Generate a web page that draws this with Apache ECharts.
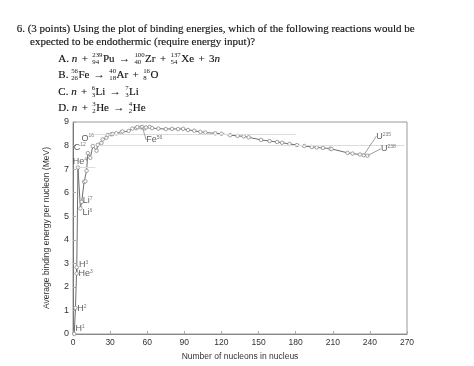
<!DOCTYPE html>
<html>
<head>
<meta charset="utf-8">
<script src="https://cdn.jsdelivr.net/npm/echarts@6/dist/echarts.min.js"></script>
<style>
html, body { margin: 0; padding: 0; background: #fff; }
#main { width: 474px; height: 366px; }
</style>
</head>
<body>
<div id="main"></div>
<script>
// mass number A and average binding energy per nucleon (MeV), in plotting order
var nucleons = [1, 2, 3, 3, 4, 6, 7, 9, 10, 11, 12, 14, 16, 19, 20, 23, 24, 27, 28, 31, 32, 35, 39, 40,
	45, 48, 51, 52, 55, 56, 58, 59, 62, 64, 69, 75, 80, 85, 89, 93, 98, 103, 107, 115, 120, 127, 133,
	138, 142, 152, 159, 165, 169, 175, 181, 187, 193, 197, 202, 208, 209, 222, 226, 232, 235, 238];
var energy = [0, 1.11, 2.83, 2.57, 7.07, 5.33, 5.61, 6.46, 6.48, 6.93, 7.68, 7.48, 7.98, 7.78, 8.03,
	8.11, 8.26, 8.33, 8.45, 8.48, 8.49, 8.52, 8.56, 8.60, 8.62, 8.72, 8.74, 8.78, 8.77, 8.79, 8.73,
	8.77, 8.79, 8.74, 8.72, 8.70, 8.71, 8.70, 8.71, 8.66, 8.63, 8.58, 8.55, 8.52, 8.50, 8.44, 8.41,
	8.39, 8.35, 8.24, 8.19, 8.15, 8.12, 8.07, 8.02, 7.98, 7.94, 7.92, 7.90, 7.87, 7.85, 7.69, 7.66,
	7.62, 7.59, 7.57];

// labelled isotopes
var tagSymbols = ['H', 'H', 'H', 'He', 'He', 'Li', 'Li', 'C', 'O', 'Fe', 'U', 'U'];
var tagMass = [1, 2, 3, 3, 4, 6, 7, 12, 16, 56, 235, 238];
var tagEnergy = [0, 1.11, 2.83, 2.57, 7.07, 5.33, 5.61, 7.68, 7.98, 8.79, 7.59, 7.57];

// faint reference lines in the figure: [from A, to A, energy]
var refLines = [[17, 180, 8.5], [20, 268, 8.0], [4, 18, 7.07]];

var xTicks = [0, 30, 60, 90, 120, 150, 180, 210, 240, 270];

var question = [
	'6. (3 points) Using the plot of binding energies, which of the following reactions would be',
	'expected to be endothermic (require energy input)?'
];
var choices = [
	['A. ', ['i', 'n'], ['op', '+'], ['nuc', '239', '94', 'Pu'], ['op', '\u2192'], ['nuc', '100', '40', 'Zr'], ['op', '+'], ['nuc', '137', '54', 'Xe'], ['op', '+'], '3', ['i', 'n']],
	['B. ', ['nuc', '56', '26', 'Fe'], ['op', '\u2192'], ['nuc', '40', '18', 'Ar'], ['op', '+'], ['nuc', '16', '8', 'O']],
	['C. ', ['i', 'n'], ['op', '+'], ['nuc', '6', '3', 'Li'], ['op', '\u2192'], ['nuc', '7', '3', 'Li']],
	['D. ', ['i', 'n'], ['op', '+'], ['nuc', '3', '2', 'He'], ['op', '\u2192'], ['nuc', '4', '2', 'He']]
];

// label shifts from the point (px) and which ones get a leader line
var tagShift = [[6, -5], [6.5, 1], [7, -3], [9, 0], [2, -6], [7, 4], [6, -1], [-8, -6], [-5, -8], [12, 13], [20, -19], [21, -7]];
var tagLeader = [0, 0, 0, 0, 0, 0, 0, 0, 0, 1, 1, 1];

var ctx = document.createElement('canvas').getContext('2d');
function textWidth(font, s) { ctx.font = font; return ctx.measureText(s).width; }
var serif = '"Liberation Serif", "DejaVu Serif", serif';
var fs = 10 * 398 / textWidth('10px ' + serif, question[0]);
var sfs = fs * 0.62;
var opGap = fs * 0.4;

function txt(s, x, y, font, small) {
	return {
		type: 'text', x: x, y: y, silent: true,
		style: { text: s, font: font, fill: '#111', stroke: small ? null : '#222', lineWidth: 0.15, textVerticalAlign: 'middle' }
	};
}

function lineElements(tokens, x, y) {
	var els = [];
	var f1 = fs + 'px ' + serif, f2 = sfs + 'px ' + serif;
	tokens.forEach(function(tk) {
		if(typeof tk === 'string') tk = ['t', tk];
		if(tk[0] === 'nuc') {
			var sw = Math.max(textWidth(f2, tk[1]), textWidth(f2, tk[2]));
			els.push(txt(tk[1], x, y - fs * 0.36, f2, true));
			els.push(txt(tk[2], x, y + fs * 0.3, f2, true));
			x += sw + 0.5;
			els.push(txt(tk[3], x, y, f1));
			x += textWidth(f1, tk[3]);
		} else if(tk[0] === 'op') {
			x += opGap;
			els.push(txt(tk[1], x, y, f1));
			x += textWidth(f1, tk[1]) + opGap;
		} else {
			var f = (tk[0] === 'i' ? 'italic ' : '') + f1;
			els.push(txt(tk[1], x, y, f));
			x += textWidth(f, tk[1]);
		}
	});
	return els;
}

var graphics = [];
graphics = graphics.concat(lineElements([question[0]], 16.7, 29.3));
graphics = graphics.concat(lineElements([question[1]], 30, 42.3));
var choiceY = [59, 75, 91.7, 108.3];
choices.forEach(function(c, i) {
	graphics = graphics.concat(lineElements(c, 58.3, choiceY[i]));
});

function tagSeries(leader) {
	var idx = [];
	tagLeader.forEach(function(l, i) { if(l === leader) idx.push(i); });
	return {
		type: 'scatter',
		symbolSize: 1,
		itemStyle: { color: 'rgba(0,0,0,0)' },
		silent: true,
		z: 5,
		data: idx.map(function(i) {
			return { name: tagSymbols[i], value: [tagMass[i], tagEnergy[i]] };
		}),
		label: {
			show: true,
			position: 'inside',
			formatter: function(p) { return '{a|' + p.name + '}{s|' + p.value[0] + '}'; },
			rich: {
				a: { fontSize: 9, fontFamily: 'Liberation Sans', color: '#333' },
				s: { fontSize: 5, fontFamily: 'Liberation Sans', color: '#555', verticalAlign: 'top' }
			}
		},
		labelLayout: function(p) {
			var s = tagShift[idx[p.dataIndex]];
			return { dx: s[0], dy: s[1] };
		},
		labelLine: { show: !!leader, lineStyle: { color: '#888', width: 0.8 } }
	};
}

var chart = echarts.init(document.getElementById('main'));
chart.setOption({
	backgroundColor: '#fff',
	animation: false,
	graphic: graphics,
	grid: { left: 73, right: 67, top: 122, bottom: 32, show: true, borderColor: '#9a9a9a', borderWidth: 1 },
	xAxis: {
		type: 'value', min: 0, max: 270, interval: 30,
		name: 'Number of nucleons in nucleus',
		nameLocation: 'middle', nameGap: 15,
		nameTextStyle: { fontSize: 8.5, color: '#333', fontFamily: 'Liberation Sans' },
		axisLine: { lineStyle: { color: '#888' } },
		axisTick: { inside: true, length: 3, lineStyle: { color: '#aaa' } },
		axisLabel: { fontSize: 8.5, color: '#333', margin: 4, fontFamily: 'Liberation Sans',
			formatter: function(v) { return xTicks.indexOf(v) >= 0 ? String(v) : ''; } },
		splitLine: { show: false }
	},
	yAxis: {
		type: 'value', min: 0, max: 9, interval: 1,
		name: 'Average binding energy per nucleon (MeV)',
		nameLocation: 'middle', nameGap: 22,
		nameTextStyle: { fontSize: 8.5, color: '#333', fontFamily: 'Liberation Sans' },
		axisLine: { show: true, lineStyle: { color: '#777' } },
		axisTick: { show: true, inside: true, length: 3, lineStyle: { color: '#aaa' } },
		axisLabel: { fontSize: 9, color: '#333', margin: 4, fontFamily: 'Liberation Sans' },
		splitLine: { show: false }
	},
	series: [{
		type: 'line',
		data: nucleons.map(function(a, i) { return [a, energy[i]]; }),
		symbol: 'circle',
		symbolSize: 3.5,
		showAllSymbol: true,
		itemStyle: { color: '#fff', borderColor: '#8a8a8a', borderWidth: 0.8 },
		lineStyle: { color: '#6e6e6e', width: 1 },
		z: 3,
		markLine: {
			silent: true,
			symbol: 'none',
			label: { show: false },
			lineStyle: { color: '#dcdcdc', width: 1, type: 'solid' },
			data: refLines.map(function(r) { return [{ coord: [r[0], r[2]] }, { coord: [r[1], r[2]] }]; })
		}
	}, tagSeries(0), tagSeries(1)]
});
</script>
</body>
</html>
